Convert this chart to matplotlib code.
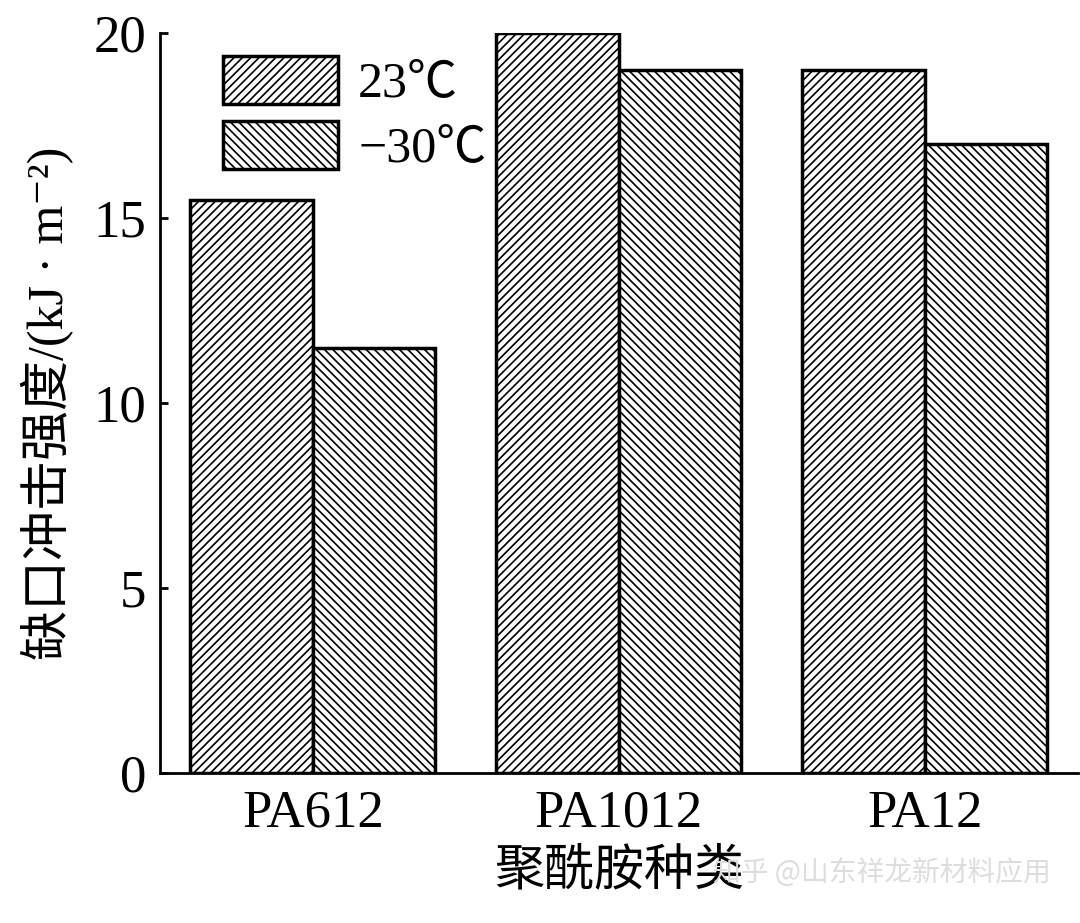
import matplotlib.pyplot as plt
import matplotlib as mpl
import numpy as np

mpl.rcParams['hatch.linewidth'] = 1.2
fam = ['Liberation Serif', 'Noto Sans CJK SC', 'DejaVu Sans']
plt.rcParams['font.family'] = fam

categories = ['PA612', 'PA1012', 'PA12']
v_23 = [15.5, 20.0, 19.0]
v_m30 = [11.5, 19.0, 17.0]
legend_labels = ['23℃', '−30℃']

fig = plt.figure(figsize=(10.8, 9.23), dpi=100)
ax = fig.add_axes([0.148, 0.1625, 0.85, 0.8015])
x = np.arange(len(categories))
w = 0.4
b1 = ax.bar(x - w / 2, v_23, w, facecolor='white', edgecolor='black', linewidth=2.5, hatch='////')
b2 = ax.bar(x + w / 2, v_m30, w, facecolor='white', edgecolor='black', linewidth=2.5, hatch='\\\\\\\\')

ax.set_xlim(-0.5, 2.5)
ax.set_ylim(0, 20)
ax.set_yticks([0, 5, 10, 15, 20])
ax.set_xticks(x)
ax.set_xticklabels(categories)
ax.tick_params(axis='y', direction='in', length=6, width=2, labelsize=38, pad=10)
ax.tick_params(axis='x', length=0, labelsize=38, pad=12)
for s in ['top', 'right']:
    ax.spines[s].set_visible(False)
for s in ['left', 'bottom']:
    ax.spines[s].set_linewidth(2)

ax.set_ylabel('缺口冲击强度/(kJ · m⁻²)', fontsize=36, labelpad=14)
ax.set_xlabel('聚酰胺种类', fontsize=36, labelpad=8)

leg = ax.legend([b1, b2], legend_labels, loc='upper left', bbox_to_anchor=(0.02, 1.03),
                fontsize=36, frameon=False, handlelength=2.3, handleheight=1.1,
                handletextpad=0.4, labelspacing=0.25)

fig.text(0.66, 0.045, '知乎 @山东祥龙新材料应用', fontsize=20, color='#dddddd',
         family=['Noto Sans CJK SC', 'DejaVu Sans'])

fig.savefig('out.png', dpi=100)
